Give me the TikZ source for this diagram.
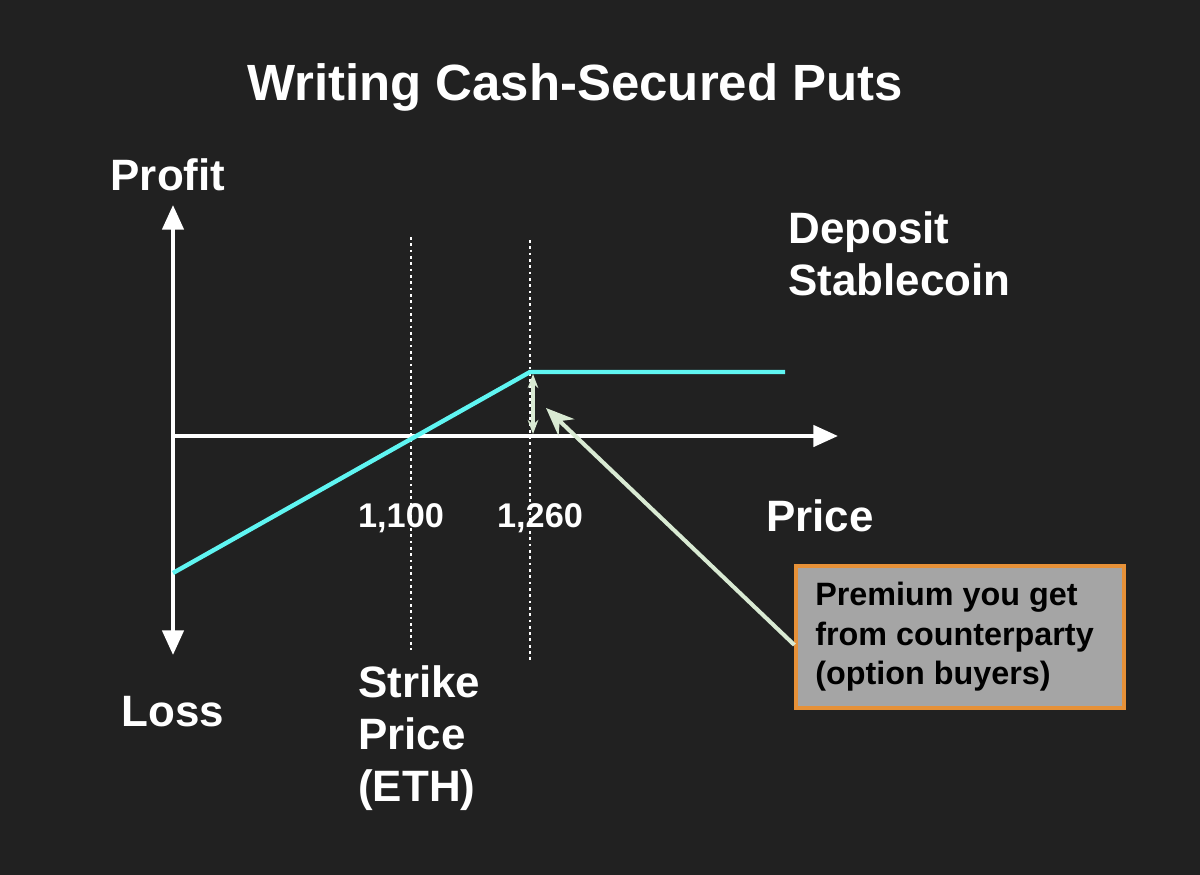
\documentclass[tikz,border=0pt]{standalone}
\usepackage{fontspec}
\setmainfont{Liberation Sans}
\usetikzlibrary{arrows.meta}
\definecolor{bg}{HTML}{212121}
\definecolor{cy}{HTML}{5FF5F2}
\definecolor{lg}{HTML}{D9EAD3}
\definecolor{og}{HTML}{E69138}
\definecolor{bx}{HTML}{A5A5A5}
\begin{document}
\begin{tikzpicture}[x=0.02cm,y=-0.02cm,
  lab/.style={text=white,font=\bfseries\fontsize{25}{29}\selectfont,inner sep=0},
  num/.style={text=white,font=\bfseries\fontsize{19.5}{22}\selectfont,inner sep=0},
  axis/.style={white,line width=2.3pt,-{Triangle[length=14pt,width=12pt]}},
  dots/.style={white,line width=1.6pt,dotted}]
\fill[bg] (0,0) rectangle (1200,875);
\useasboundingbox (0,0) rectangle (1200,875);
\node[lab,font=\bfseries\fontsize{29}{33}\selectfont] (title) at (575,87) {Writing Cash-Secured Puts};
\coordinate (o) at (173,436);
\coordinate (yt) at (173,205);
\coordinate (yb) at (173,655);
\coordinate (xe) at (838,436);
\draw[axis] (o) -- (yt);
\draw[axis] (o) -- (yb);
\draw[axis] (o) -- (xe);
\coordinate (d1t) at (411,237); \coordinate (d1b) at (411,650);
\coordinate (d2t) at (530,240); \coordinate (d2b) at (530,660);
\draw[dots] (d1t) -- (d1b);
\draw[dots] (d2t) -- (d2b);
\coordinate (p0) at (173,573); \coordinate (p1) at (530,372); \coordinate (p2) at (785,372);
\draw[cy,line width=2.5pt] (p0) -- (p1) -- (p2);
\coordinate (a1) at (533,374); \coordinate (a2) at (533,434);
\draw[lg,line width=1.8pt,{Stealth[length=8pt]}-{Stealth[length=8pt]}] (a1) -- (a2);
\node[draw=og,fill=bx,line width=1.8pt,minimum width=328*0.02cm,minimum height=142*0.02cm,inner sep=0] (box) at (960,637) {};
\node[anchor=west,align=left,font=\bfseries\fontsize{18.4}{22.5}\selectfont,inner sep=0,text=black] (bt) at (815,637) {Premium you get\\from counterparty\\(option buyers)};
\coordinate (at) at (546,408);
\draw[lg,line width=2.3pt,-{Stealth[length=16pt,width=13pt]}] (box.west |- 0,645) -- (at);
\node[lab] (profit) at (168,175) {Profit};
\node[lab] (loss) at (173,712) {Loss};
\node[num] (n1) at (401,518) {1,100};
\node[num] (n2) at (540,518) {1,260};
\node[lab] (price) at (820,516) {Price};
\node[lab,anchor=west,align=left,font=\bfseries\fontsize{25}{29.5}\selectfont] (dep) at (788,254) {Deposit\\Stablecoin};
\node[lab,anchor=west,align=left,font=\bfseries\fontsize{25}{29.5}\selectfont] (sp) at (358,738) {Strike\\Price\\(ETH)};
\end{tikzpicture}
\end{document}
